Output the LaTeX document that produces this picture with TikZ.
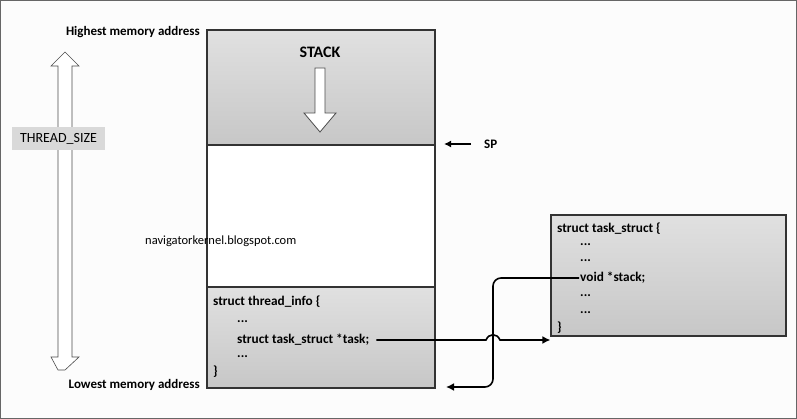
\documentclass[tikz,border=0pt]{standalone}
\usepackage{fontspec}
\setmainfont{Carlito}
\usetikzlibrary{arrows.meta,positioning}
\tikzset{
  box/.style={draw=black!80,line width=1.2pt,top color=black!12,bottom color=black!22},
  lbl/.style={font=\fontsize{13}{14}\selectfont\bfseries,inner sep=1pt},
  code/.style={font=\fontsize{13.3}{14}\selectfont\bfseries,anchor=west,inner sep=1pt},
  hollow/.style={draw=black!70,fill=white,line width=0.6pt},
  link/.style={line width=1.6pt,-{Latex[length=8pt,width=8pt]},rounded corners=8pt}
}
\begin{document}
\begin{tikzpicture}[x=1pt,y=-1pt]
\useasboundingbox (0,0) rectangle (797,419);
\fill[black!1] (0,0) rectangle (797,419);
\draw[black!60,line width=0.8pt] (0.5,0.5) rectangle (796.5,418.5);
% memory blocks
\node[box,minimum width=228pt,minimum height=115pt,inner sep=0pt] (stack) at (321,87.5) {};
\draw[black!80,line width=1.2pt,fill=white] (207,145) rectangle (435,287);
\node[box,minimum width=228pt,minimum height=101pt,inner sep=0pt] (tinfo) at (321,337.5) {};
\node[box,minimum width=235pt,minimum height=121pt,inner sep=0pt] (tstruct) at (668.5,275.5) {};
% size arrow
\draw[hollow] (58,370) -- (51,357) -- (58,357) -- (58,66) -- (51,66) -- (65,52) -- (79,66) -- (72,66) -- (72,357) -- (79,357) -- (65,370) -- cycle;
\node[fill=black!15,minimum width=93pt,minimum height=23pt,inner sep=0pt,font=\fontsize{14}{15}\selectfont] (size) at (58.5,138.5) {THREAD\_SIZE};
% stack direction
\node[lbl,font=\fontsize{16}{17}\selectfont\bfseries] (stk) at (320,52) {STACK};
\draw[hollow,line width=0.8pt] (315,68) -- (325,68) -- (325,113) -- (336,113) -- (320,132) -- (304,113) -- (315,113) -- cycle;
% addresses
\node[lbl,anchor=east] (high) at (201,32) {Highest memory address};
\node[lbl,anchor=east] (low) at (201,385) {Lowest memory address};
\node[lbl,anchor=west] (sp) at (483,144) {SP};
\coordinate (sptip) at (444,144);
\draw[line width=1.4pt,-{Latex[length=7pt,width=7pt]}] (sp.west) ++(-12,0) -- (sptip);
\node[font=\fontsize{12.5}{13}\selectfont,inner sep=0pt,anchor=west] (site) at (145,241) {navigatorkernel.blogspot.com};
% thread_info text
\node[code] (ti0) at (212,302) {struct thread\_info \{};
\node[code] (ti1) at (236,322) {...};
\node[code] (ti2) at (236,340) {struct task\_struct *task;};
\node[code] (ti3) at (236,357) {...};
\node[code] (ti4) at (212,372) {\}};
% task_struct text
\node[code] (ts0) at (556,229) {struct task\_struct \{};
\node[code] (ts1) at (579,245) {...};
\node[code] (ts2) at (579,261) {...};
\node[code] (ts3) at (579,278) {void *stack;};
\node[code] (ts4) at (579,296) {...};
\node[code] (ts5) at (579,313) {...};
\node[code] (ts6) at (556,328) {\}};
% pointers
\coordinate (lowtip) at (446,387);
\draw[link] (ts3.west) -- (493,278) -- (493,387) -- (lowtip);
\draw[link,rounded corners=0pt] (ti2.east) ++(6,0) -- (486,340) .. controls (489,333) and (497,333) .. (500,340) -- (tstruct.west |- ti2);
\end{tikzpicture}
\end{document}
